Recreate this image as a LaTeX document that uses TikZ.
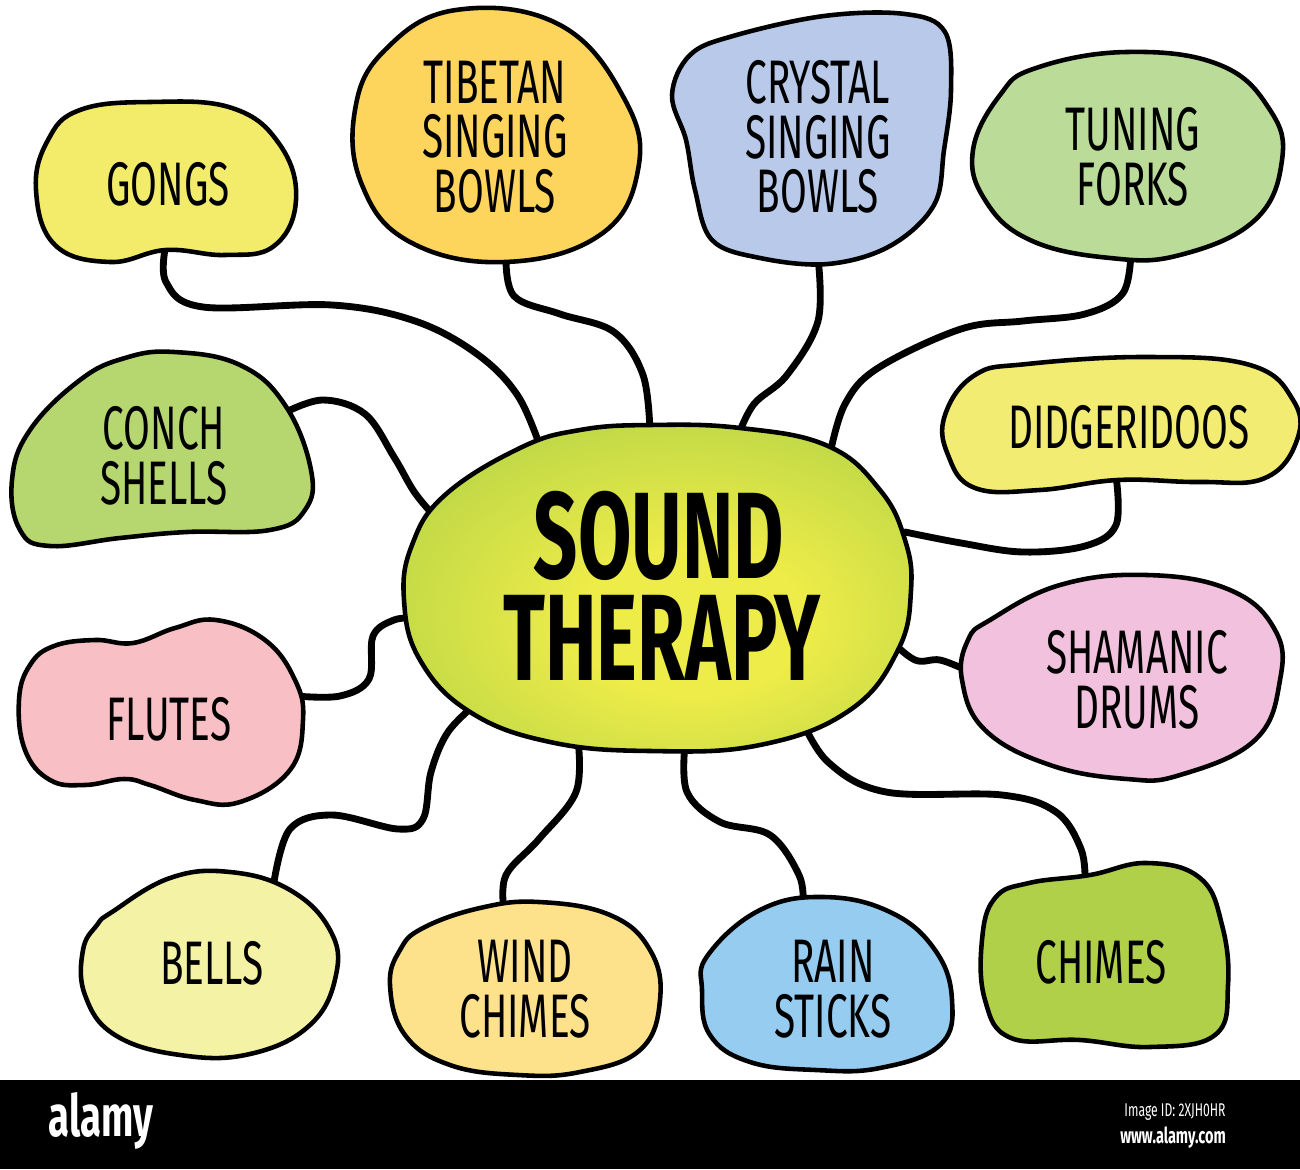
\documentclass[tikz,border=0pt]{standalone}
\usepackage{fontspec}
\newfontfamily\handfont{Fira Sans}[FakeStretch=0.63]
\newfontfamily\logofont{Fira Sans}[FakeStretch=0.66]
\definecolor{cGongs}{HTML}{F3EC6B}
\definecolor{cTibet}{HTML}{FDD45C}
\definecolor{cCrystal}{HTML}{B8C9E9}
\definecolor{cTuning}{HTML}{BADC98}
\definecolor{cDidg}{HTML}{F3EC73}
\definecolor{cShaman}{HTML}{F2C1DD}
\definecolor{cChimes}{HTML}{B0D04A}
\definecolor{cRain}{HTML}{95CCF0}
\definecolor{cWind}{HTML}{FDE28B}
\definecolor{cBells}{HTML}{F4F2A4}
\definecolor{cFlutes}{HTML}{F8C0C4}
\definecolor{cConch}{HTML}{B6D66F}
\definecolor{cIn}{HTML}{EEEC48}
\definecolor{cOut}{HTML}{A6CE46}
\pgfdeclareradialshading{centershade}{\pgfpoint{4bp}{-6bp}}{color(0bp)=(cIn); color(11bp)=(cIn); color(41bp)=(cOut); color(80bp)=(cOut)}
\begin{document}
\begin{tikzpicture}[x=0.02cm,y=-0.02cm,
  blob/.style={draw=black, line width=2.6pt, line join=round},
  conn/.style={draw=black, line width=3.9pt, line cap=round, line join=round},
  lbl/.style={inner sep=0pt, align=center, text=black, font={\handfont\fontsize{35}{31}\selectfont}},
  hub/.style={inner sep=0pt, align=center, text=black, font={\handfont\bfseries\fontsize{70}{56}\selectfont}},
  logo/.style={inner sep=0pt, text=white}]
\useasboundingbox (0,0) rectangle (1300,1169);
\fill[white] (0,0) rectangle (1300,1169);

% connector end points
\coordinate (gongsA) at (166,244);
\coordinate (hubGongs) at (542,452);
\coordinate (tibetA) at (506,256);
\coordinate (hubTibet) at (650,432);
\coordinate (crystalA) at (818,258);
\coordinate (hubCrystal) at (738,436);
\coordinate (tuningA) at (1131,250);
\coordinate (hubTuning) at (830,454);
\coordinate (didgA) at (1116,476);
\coordinate (hubDidg) at (905,532);
\coordinate (shamanA) at (968,671);
\coordinate (hubShaman) at (888,638);
\coordinate (chimesA) at (1085,882);
\coordinate (hubChimes) at (800,716);
\coordinate (rainA) at (803,904);
\coordinate (hubRain) at (685,744);
\coordinate (windA) at (504,910);
\coordinate (hubWind) at (578,740);
\coordinate (bellsA) at (274,882);
\coordinate (hubBells) at (478,702);
\coordinate (flutesA) at (296,696);
\coordinate (hubFlutes) at (416,618);
\coordinate (conchA) at (284,413);
\coordinate (hubConch) at (438,520);

% connectors
\draw[conn] plot[smooth, tension=0.6] coordinates {(gongsA) (166,282) (203,307) (332,305) (415,321) (477,354) (518,396) (hubGongs)};
\draw[conn] plot[smooth, tension=0.6] coordinates {(tibetA) (514,296) (560,314) (614,332) (643,375) (hubTibet)};
\draw[conn] plot[smooth, tension=0.6] coordinates {(crystalA) (818,321) (787,375) (754,404) (hubCrystal)};
\draw[conn] plot[smooth, tension=0.6] coordinates {(tuningA) (1123,293) (1085,314) (1023,321) (961,329) (878,368) (845,404) (hubTuning)};
\draw[conn] plot[smooth, tension=0.6] coordinates {(didgA) (1116,525) (1085,546) (1023,552) (961,543) (hubDidg)};
\draw[conn] plot[smooth, tension=0.6] coordinates {(hubShaman) (915,660) (940,660) (shamanA)};
\draw[conn] plot[smooth, tension=0.6] coordinates {(hubChimes) (828,762) (886,792) (1002,795) (1056,812) (1081,849) (chimesA)};
\draw[conn] plot[smooth, tension=0.6] coordinates {(hubRain) (687,792) (720,822) (770,835) (799,875) (rainA)};
\draw[conn] plot[smooth, tension=0.6] coordinates {(hubWind) (576,792) (539,839) (506,875) (windA)};
\draw[conn] plot[smooth, tension=0.6] coordinates {(hubBells) (448,732) (431,772) (423,819) (398,829) (332,815) (290,829) (bellsA)};
\draw[conn] plot[smooth, tension=0.6] coordinates {(flutesA) (340,696) (369,679) (373,636) (394,620) (hubFlutes)};
\draw[conn] plot[smooth, tension=0.6] coordinates {(conchA) (323,400) (365,414) (394,457) (415,493) (hubConch)};

% blobs
\path[blob, fill=cGongs] plot[smooth cycle, tension=0.7] coordinates {(80,110) (150,102) (232,108) (280,145) (296,200) (274,246) (225,255) (166,250) (110,262) (55,245) (36,190) (48,140)};
\path[blob, fill=cTibet] plot[smooth cycle, tension=0.7] coordinates {(456,10) (560,25) (625,100) (638,170) (600,235) (505,262) (410,242) (362,185) (355,110) (385,50)};
\path[blob, fill=cCrystal] plot[smooth cycle, tension=0.6] coordinates {(733,36) (824,16) (905,14) (945,32) (951,90) (944,150) (934,205) (890,246) (828,264) (760,258) (712,240) (695,190) (686,140) (672,95) (690,55)};
\path[blob, fill=cTuning] plot[smooth cycle, tension=0.7] coordinates {(1036,68) (1127,52) (1220,65) (1270,110) (1282,160) (1255,220) (1180,255) (1110,258) (1030,240) (985,200) (973,150) (1000,95)};
\path[blob, fill=cDidg] plot[smooth cycle, tension=0.7] coordinates {(1027,364) (1147,357) (1250,365) (1293,400) (1297,440) (1265,478) (1200,482) (1118,480) (1040,490) (975,488) (948,455) (945,415) (975,375)};
\path[blob, fill=cShaman] plot[smooth cycle, tension=0.7] coordinates {(990,620) (1060,585) (1147,575) (1230,590) (1275,630) (1280,680) (1255,740) (1180,775) (1127,779) (1050,765) (985,730) (962,680) (968,640)};
\path[blob, fill=cChimes] plot[smooth cycle, tension=0.7] coordinates {(1029,883) (1090,875) (1147,863) (1200,878) (1222,925) (1228,985) (1215,1035) (1150,1047) (1080,1040) (1011,1038) (985,1000) (982,940) (995,898)};
\path[blob, fill=cRain] plot[smooth cycle, tension=0.7] coordinates {(708,955) (760,910) (824,897) (890,912) (935,950) (952,1000) (940,1045) (880,1068) (816,1070) (750,1062) (710,1035) (702,990)};
\path[blob, fill=cWind] plot[smooth cycle, tension=0.7] coordinates {(423,928) (480,908) (539,902) (610,915) (650,950) (660,1000) (640,1050) (580,1072) (518,1075) (450,1065) (405,1035) (390,985) (400,950)};
\path[blob, fill=cBells] plot[smooth cycle, tension=0.7] coordinates {(112,912) (170,878) (230,872) (290,890) (330,930) (336,975) (310,1025) (250,1054) (180,1055) (115,1035) (85,995) (83,950) (97,925)};
\path[blob, fill=cFlutes] plot[smooth cycle, tension=0.7] coordinates {(54,646) (95,640) (133,643) (175,628) (216,620) (265,640) (295,680) (303,720) (290,770) (240,802) (195,800) (150,785) (124,779) (85,785) (50,780) (25,750) (19,700) (30,665)};
\path[blob, fill=cConch] plot[smooth cycle, tension=0.7] coordinates {(174,352) (240,365) (285,405) (311,470) (305,510) (270,530) (187,532) (120,538) (50,546) (20,530) (12,480) (30,430) (80,380) (125,358)};

% central hub
\path[blob, shade, shading=centershade] plot[smooth cycle, tension=0.7] coordinates {(650,425) (740,428) (828,446) (880,490) (905,540) (911,590) (898,650) (850,710) (760,745) (650,751) (550,742) (470,712) (420,660) (404,600) (412,545) (445,495) (520,448) (580,430)};

% labels
\node[hub] (sound) at (659,536) {SOUND};
\node[hub] (therapy) at (662,638) {THERAPY};
\node[lbl] (gongs) at (168,184) {GONGS};
\node[lbl] (tibet) at (495,137) {TIBETAN\\SINGING\\BOWLS};
\node[lbl] (crystal) at (818,137) {CRYSTAL\\SINGING\\BOWLS};
\node[lbl] (tuning) at (1133,157) {TUNING\\FORKS};
\node[lbl] (didg) at (1129,427) {DIDGERIDOOS};
\node[lbl] (shaman) at (1137,680) {SHAMANIC\\DRUMS};
\node[lbl] (chimes) at (1101,962) {CHIMES};
\node[lbl] (rain) at (833,989) {RAIN\\STICKS};
\node[lbl] (wind) at (525,989) {WIND\\CHIMES};
\node[lbl] (bells) at (212,963) {BELLS};
\node[lbl] (flutes) at (169,719) {FLUTES};
\node[lbl] (conch) at (164,456) {CONCH\\SHELLS};

% bottom banner
\fill[black] (0,1080) rectangle (1300,1169);
\node[logo, font={\logofont\bfseries\fontsize{33}{36}\selectfont}] (alamylogo) at (101,1121) {alamy};
\node[logo, font={\logofont\fontsize{10.5}{12}\selectfont}] (imageid) at (1175,1112) {Image ID: 2XJH0HR};
\node[logo, font={\logofont\bfseries\fontsize{12.5}{14}\selectfont}] (www) at (1173,1138) {www.alamy.com};
\end{tikzpicture}
\end{document}
